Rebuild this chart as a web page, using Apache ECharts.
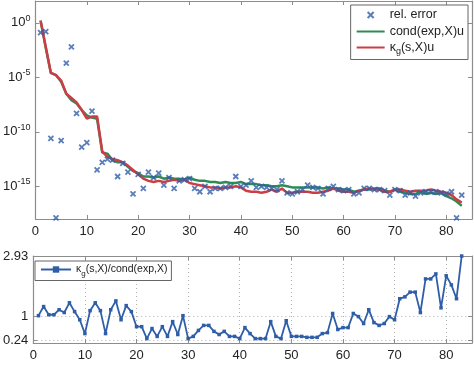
<!DOCTYPE html>
<html>
<head>
<meta charset="utf-8">
<script src="https://cdn.jsdelivr.net/npm/echarts@6/dist/echarts.min.js"></script>
<style>
  html, body { margin: 0; padding: 0; background: #fff; }
  #chart { width: 474px; height: 366px; }
</style>
</head>
<body>
<div id="chart"></div>
<script>
// step index 1..83 along the x axis
const steps = Array.from({ length: 83 }, (_, k) => k + 1);
const xTicks = [0, 10, 20, 30, 40, 50, 60, 70, 80];
const topExpTicks = [-15, -10, -5, 0];
const ratioTicks = [0.24, 1, 2.93];

// top panel values, stored as log10 exponents
const relErrorExp = [
  -0.9, -0.8, -10.6, -17.9, -10.8, -3.7, -2.2, -8.3, -11.4, -11.0,
  -8.1, -13.5, -12.8, -12.5, -12.6, -14.1, -12.9, -13.7, -15.7, -13.9,
  -15.2, -13.7, -14.2, -13.8, -14.9, -14.2, -15.2, -14.5, -14.4, -14.3,
  -15.2, -15.5, -15.0, -15.5, -15.2, -15.2, -15.1, -15.0, -14.1, -15.0,
  -14.9, -14.5, -15.1, -15.0, -15.1, -15.2, -15.3, -14.5, -15.6, -15.7,
  -15.5, -15.3, -14.9, -15.1, -15.2, -15.7, -15.2, -15.0, -15.3, -15.4,
  -15.3, -15.7, -15.6, -15.2, -15.2, -15.3, -15.3, -15.4, -15.8, -15.3,
  -15.4, -15.8, -15.6, -15.9, -15.6, -15.5, -15.5, -15.5, -15.6, -15.7,
  -15.5, -17.9, -15.8
];
const condExp = [
  0.2, -2.3, -4.6, -4.8, -5.4, -6.5, -7.1, -7.4, -8.0, -8.5,
  -8.7, -8.8, -11.9, -12.0, -12.6, -12.8, -12.8, -13.2, -13.6, -13.8,
  -14.1, -14.1, -14.2, -14.1, -14.3, -14.2, -14.3, -14.3, -14.4, -14.2,
  -14.4, -14.5, -14.5, -14.6, -14.6, -14.7, -14.6, -14.7, -14.7, -14.6,
  -14.8, -14.8, -14.8, -14.9, -14.9, -15.0, -15.0, -14.9, -15.0, -15.1,
  -15.1, -15.1, -15.1, -15.1, -15.1, -15.2, -15.1, -15.2, -15.2, -15.3,
  -15.3, -15.5, -15.4, -15.3, -15.3, -15.2, -15.2, -15.4, -15.5, -15.3,
  -15.5, -15.6, -15.7, -15.7, -15.5, -15.7, -15.6, -15.7, -15.6, -15.9,
  -16.1, -16.4, -16.8
];
const kappaExp = [
  0.2, -2.2, -4.6, -4.8, -5.3, -6.5, -6.9, -7.3, -8.0, -8.8,
  -8.6, -8.6, -11.8, -12.3, -12.5, -12.6, -12.8, -13.1, -13.5, -13.9,
  -14.3, -14.5, -14.6, -14.5, -14.6, -14.5, -14.4, -14.5, -14.4, -14.7,
  -14.8, -14.9, -15.0, -15.1, -15.1, -15.2, -15.1, -15.1, -15.0, -15.1,
  -15.4, -15.5, -15.5, -15.6, -15.5, -15.3, -15.5, -15.2, -15.6, -15.6,
  -15.5, -15.5, -15.5, -15.6, -15.6, -15.5, -15.4, -15.2, -15.4, -15.5,
  -15.5, -15.6, -15.4, -15.3, -15.2, -15.3, -15.3, -15.5, -15.5, -15.3,
  -15.3, -15.4, -15.5, -15.4, -15.4, -15.4, -15.3, -15.4, -15.5, -15.6,
  -15.8, -16.2, -16.5
];

// bottom panel: kappa_g / cond ratio
const ratio = [
  1.03, 1.32, 1.06, 1.06, 1.22, 1.13, 1.44, 1.16, 0.90, 0.46,
  1.19, 1.44, 1.19, 0.46, 1.22, 1.50, 0.90, 1.35, 1.16, 0.68,
  0.68, 0.30, 0.62, 0.37, 0.68, 0.37, 0.84, 0.43, 1.03, 0.30,
  0.37, 0.56, 0.72, 0.72, 0.53, 0.43, 0.53, 0.37, 0.37, 0.30,
  0.65, 0.46, 0.30, 0.30, 0.30, 0.84, 0.37, 0.30, 0.87, 0.37,
  0.37, 0.37, 0.34, 0.34, 0.34, 0.46, 0.49, 1.10, 0.59, 0.65,
  0.65, 1.10, 1.00, 0.78, 1.22, 0.81, 0.72, 0.78, 1.00, 0.90,
  1.57, 1.63, 1.78, 1.78, 1.13, 2.20, 2.20, 2.36, 1.28, 2.30,
  2.01, 1.57, 2.93
];

const font = "'Liberation Sans', Arial, sans-serif";
const axisGray = "#8c8c8c";
const textColor = "#222";
const blue = "#2f5ea8";
const green = "#2e8b57";
const red = "#cc3d44";
const crossPath = "path://M0,0L10,10M10,0L0,10";
// same cross, padded to the legend item box so it stays small
const crossLegendPath = "path://M0,0L0,0M11,3L17,9M17,3L11,9M28,12L28,12";

const chart = echarts.init(document.getElementById("chart"), null, { renderer: "canvas" });

function boxAxis(gridIndex, position, extra) {
  return Object.assign({
    gridIndex,
    position,
    type: "value",
    axisLine: { show: true, onZero: false, lineStyle: { color: axisGray, width: 1.2 } },
    axisTick: { show: true, inside: true, length: 4, lineStyle: { color: axisGray } },
    axisLabel: { show: false },
    splitLine: { show: false }
  }, extra);
}

const xCommon = { min: 0, max: 85, interval: 10 };
const xTick = { show: true, inside: true, length: 4, customValues: xTicks, lineStyle: { color: axisGray } };
const xLabel = { show: true, color: textColor, fontSize: 13, fontFamily: font, margin: 6, customValues: xTicks };
const dotted = { show: true, lineStyle: { color: "#b0b0b0", type: [1, 3], width: 1 } };

chart.setOption({
  animation: false,
  backgroundColor: "#fff",
  textStyle: { fontFamily: font },
  grid: [
    { left: 32, right: 2, top: 1, height: 218 },
    { left: 32, right: 2, top: 256, bottom: 23 }
  ],
  xAxis: [
    boxAxis(0, "bottom", Object.assign({}, xCommon, { axisTick: xTick, axisLabel: xLabel })),
    boxAxis(0, "top", Object.assign({}, xCommon, { axisTick: xTick })),
    boxAxis(1, "bottom", Object.assign({}, xCommon, { axisTick: xTick, axisLabel: xLabel, splitLine: dotted })),
    boxAxis(1, "top", Object.assign({}, xCommon, { axisTick: xTick }))
  ],
  yAxis: [
    boxAxis(0, "left", {
      min: -18, max: 2,
      axisTick: { show: true, inside: true, length: 4, customValues: topExpTicks, lineStyle: { color: axisGray } },
      axisLabel: {
        show: true, margin: 5, customValues: topExpTicks,
        formatter: v => "{b|10}{s|" + v + "}",
        rich: {
          b: { fontSize: 13, color: textColor, fontFamily: font },
          s: { fontSize: 9, color: textColor, fontFamily: font, padding: [0, 0, 9, 0] }
        }
      }
    }),
    boxAxis(0, "right", {
      min: -18, max: 2,
      axisTick: { show: true, inside: true, length: 4, customValues: topExpTicks, lineStyle: { color: axisGray } }
    }),
    boxAxis(1, "left", {
      min: 0.16, max: 2.93,
      axisTick: { show: true, inside: true, length: 4, customValues: ratioTicks, lineStyle: { color: axisGray } },
      axisLabel: { show: true, color: textColor, fontSize: 13, fontFamily: font, margin: 5, customValues: ratioTicks },
      splitLine: dotted
    }),
    boxAxis(1, "right", {
      min: 0.16, max: 2.93,
      axisTick: { show: true, inside: true, length: 4, customValues: ratioTicks, lineStyle: { color: axisGray } }
    })
  ],
  legend: [
    {
      data: [
        { name: "rel. error", icon: crossLegendPath },
        { name: "cond(exp,X)u", itemStyle: { opacity: 0 } },
        { name: "κ_g(s,X)u", itemStyle: { opacity: 0 } }
      ],
      orient: "vertical",
      right: 6, top: 5,
      padding: [3, 4, 3, 5],
      itemGap: 3,
      itemWidth: 28, itemHeight: 12,
      backgroundColor: "#fff",
      borderColor: "#666", borderWidth: 1,
      formatter: name => name === "κ_g(s,X)u" ? "{a|κ}{g|g}{a|(s,X)u}" : name,
      textStyle: {
        fontSize: 12.5, color: textColor, fontFamily: font,
        rich: {
          a: { fontSize: 12.5, color: textColor, fontFamily: font },
          g: { fontSize: 9, color: textColor, fontFamily: font, padding: [9, 0, 0, 0] }
        }
      }
    },
    {
      data: ["κ_g(s,X)/cond(exp,X)"],
      left: 35, top: 261,
      padding: [3, 4, 3, 5],
      itemWidth: 30, itemHeight: 8,
      backgroundColor: "#fff",
      borderColor: "#666", borderWidth: 1,
      formatter: () => "{a|κ}{g|g}{a|(s,X)/cond(exp,X)}",
      textStyle: {
        fontSize: 10.5, color: textColor, fontFamily: font,
        rich: {
          a: { fontSize: 10.5, color: textColor, fontFamily: font },
          g: { fontSize: 8, color: textColor, fontFamily: font, padding: [8, 0, 0, 0] }
        }
      }
    }
  ],
  series: [
    {
      name: "cond(exp,X)u",
      type: "line",
      xAxisIndex: 0, yAxisIndex: 0,
      data: steps.map((x, k) => [x, condExp[k]]),
      showSymbol: false, symbol: "none",
      lineStyle: { color: green, width: 2.5 },
      itemStyle: { color: green },
      z: 2
    },
    {
      name: "κ_g(s,X)u",
      type: "line",
      xAxisIndex: 0, yAxisIndex: 0,
      data: steps.map((x, k) => [x, kappaExp[k]]),
      showSymbol: false, symbol: "none",
      lineStyle: { color: red, width: 2.5 },
      itemStyle: { color: red },
      z: 3
    },
    {
      name: "rel. error",
      type: "scatter",
      xAxisIndex: 0, yAxisIndex: 0,
      data: steps.map((x, k) => [x, relErrorExp[k]]),
      symbol: crossPath,
      symbolSize: 5,
      itemStyle: { color: blue, borderColor: blue, borderWidth: 1.8 },
      z: 4
    },
    {
      name: "κ_g(s,X)/cond(exp,X)",
      type: "line",
      xAxisIndex: 2, yAxisIndex: 2,
      data: steps.map((x, k) => [x, ratio[k]]),
      symbol: "rect", symbolSize: 3.5, showSymbol: true,
      lineStyle: { color: blue, width: 1.8 },
      itemStyle: { color: blue }
    }
  ]
});
</script>
</body>
</html>
